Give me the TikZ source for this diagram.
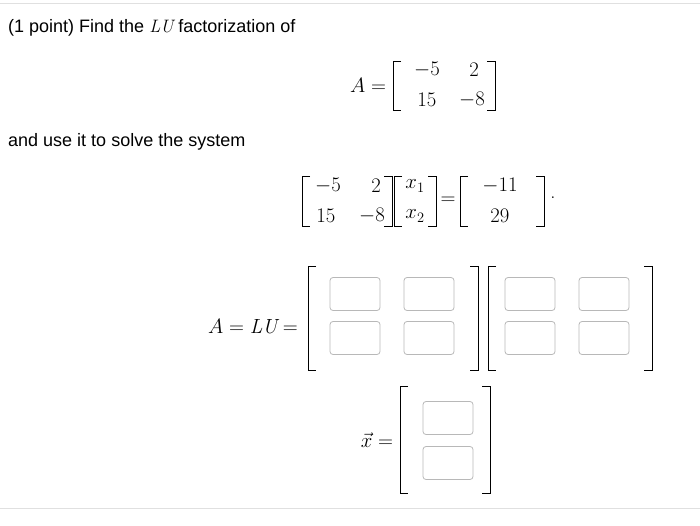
\documentclass[tikz,border=0pt]{standalone}
\usepackage{fontspec}
\setsansfont{Liberation Sans}
\begin{document}
\begin{tikzpicture}[x=1pt,y=-1pt,
  box/.style={draw=black!28,rounded corners=3pt,line width=0.8pt,minimum width=50pt,minimum height=33pt,inner sep=0pt},
  brk/.style={line width=0.9pt},
  txt/.style={font=\sffamily\fontsize{18}{20}\selectfont,anchor=west,inner sep=0pt},
  mth/.style={font=\fontsize{20.5}{23}\selectfont,inner sep=0pt}]
\useasboundingbox (0,0) rectangle (700,525);
\draw[black!12] (0,3) -- (700,3) (0,508) -- (700,508);
\node[txt] (t1) at (8,28) {(1 point) Find the $\mathit{LU}$ factorization of};
\node[txt] (t2) at (8,142) {and use it to solve the system};
% A matrix
\node[mth] (aeq) at (368,85) {$A =$};
\draw[brk] (401,61) -- (393,61) -- (393,110) -- (401,110);
\draw[brk] (487,61) -- (495,61) -- (495,110) -- (487,110);
\node[mth] (a11) at (427,70) {$-5$};
\node[mth] (a12) at (474,70) {$2$};
\node[mth] (a21) at (427,100) {$15$};
\node[mth] (a22) at (472,100) {$-8$};
% system
\draw[brk] (310,176) -- (302,176) -- (302,226) -- (310,226);
\draw[brk] (384,176) -- (392,176) -- (392,226) -- (384,226);
\node[mth] (s11) at (328,186) {$-5$};
\node[mth] (s12) at (376,186) {$2$};
\node[mth] (s21) at (326,216) {$15$};
\node[mth] (s22) at (372,216) {$-8$};
\draw[brk] (402,176) -- (394,176) -- (394,226) -- (402,226);
\draw[brk] (428,176) -- (436,176) -- (436,226) -- (428,226);
\node[mth] (x1) at (415,186) {$x_1$};
\node[mth] (x2) at (415,216) {$x_2$};
\node[mth] (seq) at (448,201) {$=$};
\draw[brk] (468,176) -- (460,176) -- (460,226) -- (468,226);
\draw[brk] (536,176) -- (544,176) -- (544,226) -- (536,226);
\node[mth] (b1) at (500,186) {$-11$};
\node[mth] (b2) at (500,216) {$29$};
\node[mth] (dot) at (553,198) {.};
% LU
\node[mth] (lu) at (253,327) {$A = \mathit{LU} =$};
\draw[brk] (316,266) -- (308,266) -- (308,370) -- (316,370);
\draw[brk] (470,266) -- (478,266) -- (478,370) -- (470,370);
\node[box] (l11) at (355,294) {};
\node[box] (l12) at (429,294) {};
\node[box] (l21) at (355,338) {};
\node[box] (l22) at (429,338) {};
\draw[brk] (496,266) -- (488,266) -- (488,370) -- (496,370);
\draw[brk] (644,266) -- (652,266) -- (652,370) -- (644,370);
\node[box] (u11) at (530,294) {};
\node[box] (u12) at (604,294) {};
\node[box] (u21) at (530,338) {};
\node[box] (u22) at (604,338) {};
% x
\node[mth] (xeq) at (377,440) {$\vec{x} =$};
\draw[brk] (408,386) -- (400,386) -- (400,493) -- (408,493);
\draw[brk] (482,386) -- (490,386) -- (490,493) -- (482,493);
\node[box] (x1b) at (448,418) {};
\node[box] (x2b) at (448,463) {};
\end{tikzpicture}
\end{document}
